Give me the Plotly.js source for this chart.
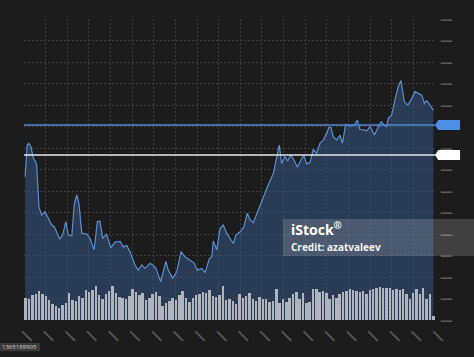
<!DOCTYPE html>
<html>
<head>
<meta charset="utf-8">
<script src="https://cdn.plot.ly/plotly-3.0.1.min.js"></script>
<style>html,body{margin:0;padding:0;background:#1c1c1c;}#chart{width:474px;height:357px;}</style>
</head>
<body>
<div id="chart"></div>
<script>
// Price series (time position, price)
const priceX = [0.05,0.15,0.22,0.32,0.43,0.54,0.59,0.69,0.82,0.97,1.12,1.28,1.40,1.51,1.66,1.79,1.93,2.05,2.21,2.33,2.44,2.54,2.67,2.90,3.05,3.24,3.39,3.51,3.64,3.82,4.01,4.21,4.44,4.59,4.75,4.90,5.13,5.28,5.44,5.59,5.83,5.98,6.10,6.32,6.56,6.67,6.87,7.06,7.26,7.44,7.67,7.86,8.01,8.22,8.37,8.57,8.68,8.75,8.91,9.06,9.21,9.37,9.52,9.68,9.80,9.99,10.17,10.32,10.45,10.60,10.83,11.06,11.29,11.53,11.68,11.80,11.91,12.07,12.19,12.33,12.48,12.64,12.84,12.94,13.07,13.22,13.37,13.53,13.68,13.84,13.99,14.10,14.19,14.30,14.46,14.61,14.72,14.87,15.07,15.26,15.41,15.53,15.69,15.84,16.00,16.20,16.35,16.51,16.66,16.77,16.84,17.00,17.18,17.30,17.43,17.58,17.74,17.89,18.08,18.23,18.39,18.51,18.62,18.77,18.92];
const priceY = [53.3,60.7,61.1,60.3,57.6,56.8,56.0,46.3,44.4,45.2,43.7,42.1,41.7,40.5,38.8,39.8,42.9,39.8,39.6,47.1,49.1,47.1,40.2,40.0,39.0,36.3,42.9,43.0,39.0,39.9,36.8,38.1,38.3,37.0,37.3,35.9,32.8,31.6,32.8,32.0,33.2,32.6,32.0,28.9,33.6,31.6,29.7,31.2,35.9,34.7,34.0,33.3,31.6,32.0,31.0,34.3,34.7,38.4,36.3,41.2,42.1,40.2,39.0,37.8,39.8,40.5,41.7,44.8,43.3,42.6,45.6,48.7,51.4,54.1,58.0,60.7,56.4,58.0,57.0,58.4,57.2,55.5,57.6,58.1,56.3,56.6,59.7,58.8,61.1,61.9,63.4,64.8,64.8,62.6,61.9,63.0,61.1,65.5,65.1,65.3,66.5,64.3,64.2,64.0,65.0,63.0,64.6,66.1,65.3,65.0,66.9,67.7,71.9,74.3,75.7,70.8,70.0,71.2,73.1,72.7,72.3,70.4,71.0,70.0,68.8];
// Volume series
const volume = [22,21,25,26,29,26,24,20,16,14,12,15,17,27,20,19,24,22,30,28,30,34,25,21,26,29,34,27,23,22,21,24,31,28,25,27,20,22,26,28,24,14,17,19,22,20,25,29,22,18,22,25,26,28,27,30,24,23,25,34,20,21,
  19,16,26,22,24,27,21,19,23,21,21,18,19,31,17,21,18,22,26,28,21,27,17,18,31,31,28,29,27,21,25,22,26,28,29,31,30,29,28,29,26,30,31,32,33,32,32,32,30,31,30,31,26,21,27,31,26,32,21,26,4];
// Reference levels
const levels = [65.35, 58.37];
const levelColors = ['#4f88d4', '#e6e6e6'];
const tagColors = ['#4d8fe6', '#ffffff'];
// Tick labels (redacted as dashes)
const xTicks = [0,1,2,3,4,5,6,7,8,9,10,11,12,13,14,15,16,17,18,19];
const yTicks = [20,25,30,35,40,45,50,55,60,65,70,75,80,85,90];
const watermark = ['iStock<sup>®</sup>', 'Credit: azatvaleev'];
const imageId = '1365189905';

const xStart = 0.08, xEnd = 18.92;
const volX = volume.map((v, i) => xStart + i * (xEnd - xStart) / (volume.length - 1));

const traces = [
  {x: priceX, y: priceY, type: 'scatter', mode: 'lines', fill: 'tozeroy',
   fillcolor: 'rgba(56,90,142,0.5)', line: {color: '#5a8fd2', width: 1.2}, hoverinfo: 'skip'},
  {x: volX, y: volume, type: 'bar', yaxis: 'y2', width: 0.115,
   marker: {color: '#b0b5bd', line: {width: 0}}, hoverinfo: 'skip'}
];

const shapes = [];
const halfH = 1.16;
levels.forEach((lv, i) => {
  shapes.push({type: 'line', xref: 'paper', yref: 'y', x0: 0, x1: 1, y0: lv, y1: lv,
    line: {color: levelColors[i], width: 1.6}, layer: 'above'});
  shapes.push({type: 'path', xref: 'paper', yref: 'y',
    path: `M 1.0,${lv} L 1.008,${lv + halfH} L 1.061,${lv + halfH} L 1.061,${lv - halfH} L 1.008,${lv - halfH} Z`,
    fillcolor: tagColors[i], line: {width: 0}, layer: 'above'});
});
shapes.push({type: 'rect', xref: 'paper', yref: 'paper', x0: 0.630, x1: 1.1, y0: 0.2126, y1: 0.3355,
  fillcolor: 'rgba(255,255,255,0.16)', line: {width: 0}, layer: 'above'});
shapes.push({type: 'rect', xref: 'paper', yref: 'paper', x0: -0.06, x1: 0.039, y0: -0.104, y1: -0.0764,
  fillcolor: '#3a3a3a', line: {width: 0}, layer: 'above'});

const annotations = [
  {xref: 'paper', yref: 'paper', x: 0.645, y: 0.303, xanchor: 'left', yanchor: 'middle', showarrow: false,
   text: watermark[0], font: {family: 'Open Sans', size: 14, color: '#ffffff', weight: 'bold'}},
  {xref: 'paper', yref: 'paper', x: 0.645, y: 0.243, xanchor: 'left', yanchor: 'middle', showarrow: false,
   text: watermark[1], font: {family: 'Open Sans', size: 10, color: '#f2f2f2', weight: 'bold'}},
  {xref: 'paper', yref: 'paper', x: -0.0105, y: -0.0897, xanchor: 'center', yanchor: 'middle', showarrow: false,
   text: imageId, font: {family: 'Open Sans', size: 6, color: '#d0d0d0'}}
];

const layout = {
  width: 474, height: 357,
  margin: {l: 24, r: 39, t: 19, b: 37, pad: 0},
  paper_bgcolor: '#1c1c1c', plot_bgcolor: '#1c1c1c',
  showlegend: false,
  xaxis: {range: [0, 19], tickmode: 'array', tickvals: xTicks, ticktext: xTicks.map(() => '—'),
    tickangle: 45, tickfont: {family: 'DejaVu Sans', size: 15, color: '#555555', weight: 'bold'},
    showgrid: true, gridcolor: '#404040', griddash: '2px,2px', gridwidth: 1,
    zeroline: false, showline: false, ticks: '', automargin: false, fixedrange: true},
  yaxis: {range: [20, 90], side: 'right', tickmode: 'array', tickvals: yTicks, ticktext: yTicks.map(() => '—'),
    tickfont: {family: 'DejaVu Sans', size: 13, color: '#5a5a5a', weight: 'bold'}, ticklabelstandoff: 4,
    showgrid: true, gridcolor: '#404040', griddash: '2px,2px', gridwidth: 1,
    zeroline: false, showline: false, ticks: '', automargin: false, fixedrange: true},
  yaxis2: {range: [0, 301], overlaying: 'y', side: 'left', showgrid: false, showticklabels: false,
    zeroline: false, showline: false, ticks: '', fixedrange: true},
  bargap: 0,
  shapes: shapes,
  annotations: annotations
};

Plotly.newPlot('chart', traces, layout, {displayModeBar: false, staticPlot: true});
</script>
</body>
</html>
